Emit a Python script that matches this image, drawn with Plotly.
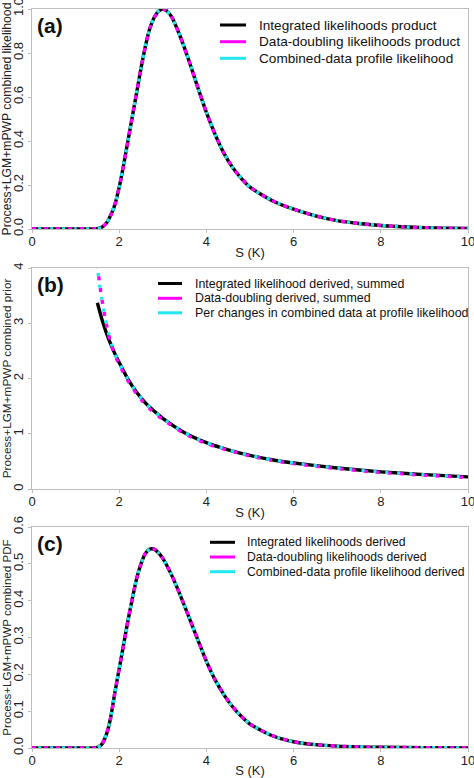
import plotly.graph_objects as go

# ---------------- data ----------------
S_a = [0, 0.5, 1.0, 1.4, 1.5, 1.6, 1.7, 1.8, 1.9, 2.0, 2.1, 2.2, 2.3, 2.4, 2.5, 2.6, 2.7, 2.8, 2.9, 3.0,
       3.1, 3.2, 3.4, 3.6, 3.8, 4.0, 4.2, 4.4, 4.6, 4.8, 5.0, 5.5, 6.0, 6.5, 7.0, 7.5, 8.0, 8.5, 9.0, 9.5, 10.0]
L_integrated = [0, 0, 0, 0, 0.002, 0.008, 0.025, 0.06, 0.11, 0.19, 0.29, 0.40, 0.51, 0.62, 0.73, 0.83, 0.91, 0.96, 0.99, 1.0,
                0.99, 0.965, 0.875, 0.765, 0.645, 0.53, 0.43, 0.345, 0.28, 0.23, 0.19, 0.13, 0.09, 0.06, 0.038, 0.025, 0.016, 0.01, 0.006, 0.004, 0.002]
L_doubling = L_integrated
L_profile = L_integrated

S_b_int = [1.5, 1.6, 1.7, 1.8, 1.9, 2.0, 2.2, 2.4, 2.6, 2.8, 3.0, 3.5, 4.0, 4.5, 5.0, 5.5, 6.0, 7.0, 8.0, 9.0, 10.0]
P_integrated = [3.37, 3.08, 2.84, 2.63, 2.45, 2.29, 1.99, 1.75, 1.56, 1.41, 1.28, 1.02, 0.84, 0.71, 0.61, 0.53, 0.47, 0.38, 0.31, 0.26, 0.22]
S_b_dd = [1.45, 1.5, 1.55, 1.6, 1.7, 1.8, 1.9, 2.0, 2.2, 2.4, 2.6, 2.8, 3.0, 3.5, 4.0, 4.5, 5.0, 5.5, 6.0, 7.0, 8.0, 9.0, 10.0]
P_doubling = [4.5, 4.05, 3.72, 3.45, 3.0, 2.66, 2.43, 2.25, 1.96, 1.72, 1.53, 1.38, 1.26, 1.0, 0.82, 0.70, 0.60, 0.52, 0.46, 0.37, 0.30, 0.25, 0.21]
P_profile = [4.45, 4.02, 3.70, 3.44, 3.01, 2.68, 2.45, 2.28, 1.99, 1.75, 1.56, 1.41, 1.28, 1.02, 0.84, 0.71, 0.61, 0.53, 0.47, 0.38, 0.31, 0.26, 0.22]

S_c = [0, 0.5, 1.0, 1.4, 1.5, 1.6, 1.7, 1.8, 1.9, 2.0, 2.1, 2.2, 2.3, 2.4, 2.5, 2.6, 2.7, 2.8, 2.9, 3.0,
       3.2, 3.4, 3.6, 3.8, 4.0, 4.2, 4.4, 4.6, 4.8, 5.0, 5.5, 6.0, 6.5, 7.0, 7.5, 8.0, 9.0, 10.0]
PDF_integrated = [0, 0, 0, 0, 0.002, 0.01, 0.035, 0.08, 0.15, 0.215, 0.28, 0.345, 0.405, 0.46, 0.50, 0.528, 0.54, 0.54, 0.53, 0.515,
                  0.47, 0.415, 0.355, 0.295, 0.235, 0.185, 0.145, 0.112, 0.086, 0.065, 0.034, 0.017, 0.009, 0.005, 0.003, 0.002, 0.001, 0.0]
PDF_doubling = PDF_integrated
PDF_profile = PDF_integrated

names_a = ["Integrated likelihoods product", "Data-doubling likelihoods product", "Combined-data profile likelihood"]
names_b = ["Integrated likelihood derived, summed", "Data-doubling derived, summed", "Per changes in combined data at profile likelihood"]
names_c = ["Integrated likelihoods derived", "Data-doubling likelihoods derived", "Combined-data profile likelihood derived"]
ytitles = ["Process+LGM+mPWP combined likelihood", "Process+LGM+mPWP combined prior", "Process+LGM+mPWP combined PDF"]
panel_labels = ["(a)", "(b)", "(c)"]
x_ticks = [0, 2, 4, 6, 8, 10]
y_ticks_a = [0.0, 0.2, 0.4, 0.6, 0.8, 1.0]
y_ticks_b = [0, 1, 2, 3, 4]
y_ticks_c = [0.0, 0.1, 0.2, 0.3, 0.4, 0.5, 0.6]

# ---------------- styling ----------------
W, H = 474, 778
FONT = "Liberation Sans, Arial, sans-serif"
BLACK, MAGENTA, CYAN = "#000000", "#ff00ff", "#22e6f0"
COLORS = [BLACK, MAGENTA, CYAN]
GRID = "#bdbdbd"

def py(top, bottom):
    return [1 - bottom / H, 1 - top / H]

xdom = [32 / W, 468 / W]
ydoms = [py(9, 229), py(268, 489), py(527, 748)]

# manual legend geometry (pixels): line x0, x1, text x, row centres, font size
legend_geo = [
    (220, 246, 257, [25, 41.7, 58.3], 13.6),
    (158, 182, 193, [283.5, 298.3, 312.8], 12.4),
    (210, 235, 245, [542.3, 557, 571.7], 12.2),
]
ytitle_size = [12.2, 11.8, 11.6]

fig = go.Figure()

panels = [
    (S_a, L_integrated, S_a, L_doubling, S_a, L_profile, names_a, y_ticks_a, "%.1f", [0, 1.0]),
    (S_b_int, P_integrated, S_b_dd, P_doubling, S_b_dd, P_profile, names_b, y_ticks_b, "%d", [0, 4]),
    (S_c, PDF_integrated, S_c, PDF_doubling, S_c, PDF_profile, names_c, y_ticks_c, "%.1f", [0, 0.6]),
]

for i, (x1, y1, x2, y2, x3, y3, names, yt, fmt, yr) in enumerate(panels):
    ax = "" if i == 0 else str(i + 1)
    xref, yref = "x" + ax, "y" + ax
    fig.add_trace(go.Scatter(x=x1, y=y1, mode="lines", name=names[0], xaxis=xref, yaxis=yref, showlegend=False,
                             line=dict(color=BLACK, width=3.4, shape="spline", smoothing=0.6)))
    fig.add_trace(go.Scatter(x=x2, y=y2, mode="lines", name=names[1], xaxis=xref, yaxis=yref, showlegend=False,
                             line=dict(color=MAGENTA, width=3.4, dash="4px,8px", shape="spline", smoothing=0.6)))
    fig.add_trace(go.Scatter(x=x3, y=y3, mode="lines", name=names[2], xaxis=xref, yaxis=yref, showlegend=False,
                             line=dict(color=CYAN, width=3.4, dash="0px,6px,3px,3px", shape="spline", smoothing=0.6)))
    fig.update_layout(**{
        "xaxis" + ax: dict(domain=xdom, range=[0, 10], tickvals=x_ticks, ticktext=[str(v) for v in x_ticks],
                           showline=True, linecolor=GRID, linewidth=1.2, mirror=True, ticks="outside",
                           ticklen=3, tickcolor=GRID, showgrid=False, zeroline=False, automargin=False,
                           ticklabeloverflow="allow", ticklabelstandoff=-3,
                           tickfont=dict(size=13, color="#222"), anchor=yref,
                           title=dict(text="S (K)", font=dict(size=13, color="#222"), standoff=0)),
        "yaxis" + ax: dict(domain=ydoms[i], range=yr, tickvals=yt, ticktext=[fmt % v for v in yt],
                           showline=True, linecolor=GRID, linewidth=1.2, mirror=True, ticks="outside",
                           ticklen=3, tickcolor=GRID, showgrid=False, zeroline=False, tickangle=-90,
                           ticklabeloverflow="allow", automargin=False,
                           tickfont=dict(size=13, color="#222"), anchor=xref,
                           title=dict(text=ytitles[i], font=dict(size=ytitle_size[i], color="#222"), standoff=2)),
    })
    fig.add_annotation(text="<b>" + panel_labels[i] + "</b>", xref="paper", yref="paper",
                       x=35 / W, y=ydoms[i][1] - 3 / H, xanchor="left", yanchor="top",
                       showarrow=False, font=dict(size=21, color="#111", family=FONT))
    lx0, lx1, tx, rows, fs = legend_geo[i]
    for k in range(3):
        yy = 1 - rows[k] / H
        fig.add_shape(type="line", xref="paper", yref="paper", x0=lx0 / W, x1=lx1 / W, y0=yy, y1=yy,
                      line=dict(color=COLORS[k], width=3))
        fig.add_annotation(text=names[k], xref="paper", yref="paper", x=tx / W, y=yy,
                           xanchor="left", yanchor="middle", showarrow=False,
                           font=dict(size=fs, color="#111", family=FONT))

fig.update_layout(width=W, height=H, margin=dict(l=0, r=0, t=0, b=0, autoexpand=False),
                  paper_bgcolor="white", plot_bgcolor="white",
                  font=dict(family=FONT, color="#222"), showlegend=False)

fig.write_html("out.html")
